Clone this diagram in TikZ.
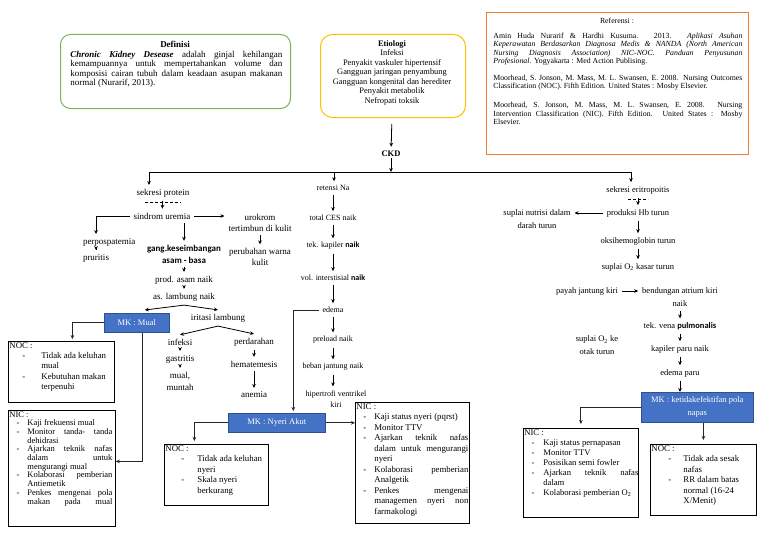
\documentclass[tikz,border=0pt]{standalone}
\usepackage{fontspec}
\setmainfont{Liberation Serif}
\newfontfamily\calfont{Carlito}
\usetikzlibrary{arrows.meta}
\definecolor{defgreen}{RGB}{122,178,84}
\definecolor{etiyellow}{RGB}{255,192,0}
\definecolor{reforange}{RGB}{237,125,49}
\definecolor{mkblue}{RGB}{68,114,196}
\definecolor{mkedge}{RGB}{47,82,143}
\newcommand{\tebal}[1]{{\calfont\bfseries #1}}
\newcommand{\isikotak}[4]{\begin{minipage}[t]{#1}\fontsize{#2}{#3}\selectfont #4\end{minipage}}
\newenvironment{dashlist}[2]{\begin{list}{-}{\setlength{\leftmargin}{#1}\setlength{\labelsep}{#2}\setlength{\labelwidth}{\dimexpr#1-#2\relax}\setlength{\topsep}{0pt}\setlength{\partopsep}{0pt}\setlength{\itemsep}{0pt}\setlength{\parsep}{0pt}}}{\end{list}}
\begin{document}
\begin{tikzpicture}[x=1pt, y=-1pt, >={Stealth[length=4pt, width=3.6pt]}, line width=0.8pt,
  txt/.style={font=\fontsize{9}{11}\selectfont, align=center, inner sep=1pt, outer sep=3pt},
  ktxt/.style={font=\fontsize{8}{11.5}\selectfont, align=center, inner sep=1pt, outer sep=3pt},
  rtxt/.style={font=\fontsize{8.5}{13}\selectfont, align=center, inner sep=1pt, outer sep=3pt},
  mk/.style={fill=mkblue, draw=mkedge, line width=0.6pt, text=white, font=\fontsize{8.5}{13}\selectfont, align=center, anchor=north west, inner sep=0pt},
  kotak/.style={draw, line width=0.8pt, anchor=north west, inner sep=0pt},
  isi/.style={anchor=north west, inner sep=1pt},
  hub/.style={->, draw=black!85, line width=0.9pt}]

\useasboundingbox (0,0) rectangle (768,543);

\node[kotak, draw=defgreen, line width=1pt, rounded corners=10pt, minimum width=230pt, minimum height=74pt] at (60, 34) (defbox) {};
\node[isi, anchor=north, font=\bfseries\fontsize{9}{10}\selectfont] at (175, 40) (defttl) {Definisi};
\node[isi] at (69, 50) (defisi) {\isikotak{212pt}{9}{9.2}{\textbf{\textit{Chronic Kidney Desease}} adalah ginjal kehilangan\linebreak kemampuannya untuk mempertahankan volume dan\linebreak komposisi cairan tubuh dalam keadaan asupan makanan\linebreak normal (Nurarif, 2013).}};

\node[kotak, draw=etiyellow, line width=1pt, rounded corners=12pt, minimum width=145pt, minimum height=83pt] at (320, 34) (etibox) {};
\node[isi, anchor=north, align=center, font=\fontsize{8.4}{9.5}\selectfont] at (392, 39) (etiisi) {\textbf{Etiologi}\\Infeksi\\Penyakit vaskuler hipertensif\\Gangguan jaringan penyambung\\Gangguan kongenital dan herediter\\Penyakit metabolik\\Nefropati toksik};

\node[kotak, draw=reforange, line width=1pt, minimum width=262pt, minimum height=142pt] at (486, 12) (refbox) {};
\node[isi, anchor=north, font=\fontsize{7.8}{8}\selectfont] at (617, 17) (refttl) {Referensi :};
\node[isi] at (492, 32) (refisi) {\isikotak{249pt}{7.8}{8.1}{Amin Huda Nurarif \& Hardhi Kusuma. 2013. \textit{Aplikasi Asuhan\linebreak Keperawatan Berdasarkan Diagnosa Medis \& NANDA (North American\linebreak Nursing Diagnosis Association) NIC-NOC. Panduan Penyusunan\linebreak Profesional}. Yogyakarta : Med Action Publising.\par\vspace{9.5pt}
Moorhead, S. Jonson, M. Mass, M. L. Swansen, E. 2008. Nursing Outcomes\linebreak Classification (NOC). Fifth Edition. United States : Mosby Elsevier.\par\vspace{11pt}
Moorhead, S. Jonson, M. Mass, M. L. Swansen, E. 2008. Nursing\linebreak Intervention Classification (NIC). Fifth Edition. United States : Mosby\linebreak Elsevier.}};

\node[font=\bfseries\fontsize{8.5}{10}\selectfont, inner sep=1pt] at (391, 154) (ckd) {CKD};
\coordinate (cabang) at (391, 172);
\coordinate (cabkiri) at (149, 172);
\coordinate (cabtengah) at (334, 172);
\coordinate (cabkanan) at (631, 172);
\path[->] (etibox) edge[shorten <=6pt, shorten >=3pt] (ckd);
\path[->] (ckd) edge (cabang);
\draw (cabkiri) -- (cabkanan);

\node[txt] at (163, 193) (sekprot) {sekresi protein};
\node[txt] at (162, 216) (sindrom) {sindrom uremia};
\node[txt] at (260, 222.5) (urokrom) {urokrom\\tertimbun di kulit};
\node[txt] at (260, 257) (ubahwarna) {perubahan warna\\kulit};
\node[txt, anchor=west] at (79, 242) (perpos) {perpospatemia};
\node[txt, anchor=west] at (79, 258) (pruritis) {pruritis};
\node[txt, font=\fontsize{9}{12}\selectfont] at (184, 254) (ganggu) {\tebal{gang.keseimbangan}\\\tebal{asam - basa}};
\node[txt] at (184, 280) (prodasam) {prod. asam naik};
\node[txt] at (184, 297) (aslamb) {as. lambung naik};
\node[mk, minimum width=65pt, minimum height=19pt] at (104, 313) (mkmual) {MK : Mual};
\node[txt] at (218, 318) (iritasi) {iritasi lambung};
\node[txt] at (180, 342) (infeksi) {infeksi};
\node[txt] at (180, 359) (gastritis) {gastritis};
\node[txt, font=\fontsize{9}{12}\selectfont] at (180, 381) (mual) {mual,\\muntah};
\node[txt] at (254, 342) (perdarahan) {perdarahan};
\node[txt] at (254, 364) (hemat) {hematemesis};
\node[txt] at (254, 395) (anemia) {anemia};

\draw[->] (cabkiri) -- (cabkiri |- sekprot.north);
\draw[densely dashed, line width=0.4pt] ([xshift=-18pt, yshift=-1pt]sekprot.south) -- ([xshift=18pt, yshift=-1pt]sekprot.south);
\path[->] (sekprot) edge (sindrom);
\draw[->] (sindrom) -- (sindrom -| urokrom.west);
\path[->] (urokrom) edge (ubahwarna);
\draw[->] (sindrom.west) -| ([xshift=17pt]perpos.north west);
\draw[->] ([xshift=17pt]perpos.south west) -- ([xshift=17pt]pruritis.north west);
\draw[->] (sindrom.south -| ganggu) -- (ganggu.north);
\path[->] (ganggu) edge (prodasam);
\path[->] (prodasam) edge (aslamb);
\draw[->] (aslamb.south) -- ([xshift=8pt, yshift=3pt]mkmual.north);
\draw[->] (aslamb.south) -- (iritasi.north);
\draw[->] (iritasi.south) -- (infeksi.north);
\draw[->] (iritasi.south) -- (perdarahan.north);
\path[->] (infeksi) edge (gastritis);
\path[->] (gastritis) edge (mual);
\path[->] (perdarahan) edge (hemat);
\path[->] (hemat) edge (anemia);

\node[kotak, minimum width=106pt, minimum height=61pt] at (8, 341) (nocmual) {};
\node[isi] at (nocmual.north west) {\isikotak{102pt}{8.8}{10.3}{\raggedright NOC :\begin{dashlist}{32pt}{16pt}\item Tidak ada keluhan\\mual\item Kebutuhan makan\\terpenuhi\end{dashlist}}};
\node[kotak, minimum width=107pt, minimum height=116pt] at (8, 410) (nicmual) {};
\node[isi] at (nicmual.north west) {\isikotak{103pt}{8.5}{8.7}{NIC :\begin{dashlist}{18pt}{8pt}\item Kaji frekuensi mual\item Monitor tanda- tanda\linebreak dehidrasi\item Ajarkan teknik nafas\linebreak dalam untuk\linebreak mengurangi mual\item Kolaborasi pemberian\linebreak Antiemetik\item Penkes mengenai pola\linebreak makan pada mual{\parfillskip=0pt\par}\end{dashlist}}};
\draw[hub, shorten >=2pt] (mkmual.west) -| ([xshift=11pt]nocmual.north);
\draw[hub] ([xshift=6pt]mkmual.south) |- ([yshift=7pt]nicmual.east);

\node[ktxt] at (333, 188) (retensi) {retensi Na};
\node[ktxt] at (333, 218) (totalces) {total CES naik};
\node[ktxt] at (333, 246) (tekkap) {tek. kapiler \tebal{naik}};
\node[ktxt] at (333, 278) (volint) {vol. interstisial \tebal{naik}};
\node[ktxt] at (333, 310) (edema) {edema};
\node[ktxt] at (333, 340) (preload) {preload naik};
\node[ktxt] at (333, 367) (beban) {beban jantung naik};
\node[ktxt] at (336, 399) (hipertrofi) {hipertrofi ventrikel\\kiri};
\node[mk, minimum width=97pt, minimum height=19pt] at (228, 413) (mknyeri) {MK : Nyeri Akut};

\draw[->] (cabtengah) -- (cabtengah |- retensi.north);
\path[->] (retensi) edge (totalces);
\path[->] (totalces) edge (tekkap);
\path[->] (tekkap) edge (volint);
\path[->] (volint) edge (edema);
\path[->] (edema) edge (preload);
\path[->] (preload) edge (beban);
\draw[->] (beban.south) -- (beban.south |- hipertrofi.north);

\node[kotak, minimum width=104pt, minimum height=61pt] at (164, 444) (nocnyeri) {};
\node[isi] at (nocnyeri.north west) {\isikotak{100pt}{8.8}{10.5}{\raggedright NOC :\begin{dashlist}{32pt}{13pt}\item Tidak ada keluhan\\nyeri\item Skala nyeri\\berkurang\end{dashlist}}};
\node[kotak, minimum width=114pt, minimum height=121pt] at (355, 402) (nicnyeri) {};
\node[isi] at (nicnyeri.north west) {\isikotak{112pt}{8.8}{10.5}{NIC :\begin{dashlist}{18pt}{8pt}\item Kaji status nyeri (pqrst)\item Monitor TTV\item Ajarkan teknik nafas\linebreak dalam untuk mengurangi\linebreak nyeri\item Kolaborasi pemberian\linebreak Analgetik\item Penkes mengenai\linebreak managemen nyeri non\linebreak farmakologi\end{dashlist}}};
\draw[hub, shorten >=2pt] (edema.west) -| ([xshift=16.5pt]mknyeri.north);
\draw[hub, shorten >=3pt] (mknyeri.west) -| ([xshift=-22pt]nocnyeri.north);
\draw[hub] (mknyeri.east) -- (mknyeri.east -| nicnyeri.west);

\node[rtxt] at (638, 190) (sekeritro) {sekresi eritropoitis};
\node[rtxt] at (638, 213) (prodhb) {produksi Hb turun};
\node[rtxt] at (537, 219.5) (supnut) {suplai nutrisi dalam\\darah turun};
\node[rtxt] at (638, 241) (oksi) {oksihemoglobin turun};
\node[rtxt] at (638, 267) (supkas) {suplai O\textsubscript{2} kasar turun};
\node[rtxt] at (587, 291) (payah) {payah jantung kiri};
\node[rtxt] at (680, 297.5) (bend) {bendungan atrium kiri\\naik};
\node[rtxt] at (680, 326) (tekvena) {tek. vena \tebal{pulmonalis}};
\node[rtxt] at (597, 345.5) (supotak) {suplai O\textsubscript{2} ke\\otak turun};
\node[rtxt] at (680, 349) (kappar) {kapiler paru naik};
\node[rtxt] at (680, 373) (edparu) {edema paru};
\node[mk, minimum width=112pt, minimum height=30pt] at (641, 392) (mknapas) {MK : ketidakefektifan pola\\napas};

\draw[->] (cabkanan) -- (cabkanan |- sekeritro.north);
\draw[densely dashed, line width=0.4pt] ([xshift=-10pt, yshift=-1pt]sekeritro.south) -- ([xshift=10pt, yshift=-1pt]sekeritro.south);
\path[->] (sekeritro) edge (prodhb);
\draw[->] (prodhb) -- (prodhb -| supnut.east);
\path[->] (prodhb) edge (oksi);
\path[->] (oksi) edge (supkas);
\draw[->] (payah) -- (payah -| bend.west);
\path[->] (bend) edge (tekvena);
\path[->] (tekvena) edge (kappar);
\path[->] (kappar) edge (edparu);
\draw[->] (edparu) -- (edparu |- mknapas.north);

\node[kotak, minimum width=115pt, minimum height=89pt] at (523, 428) (nicnapas) {};
\node[isi] at (nicnapas.north west) {\isikotak{114pt}{8.6}{10}{NIC :\begin{dashlist}{19pt}{9pt}\item Kaji status pernapasan\item Monitor TTV\item Posisikan semi fowler\item Ajarkan teknik nafas\linebreak dalam\item Kolaborasi pemberian O\textsubscript{2}\end{dashlist}}};
\node[kotak, minimum width=106pt, minimum height=71pt] at (650, 444) (nocnapas) {};
\node[isi] at (nocnapas.north west) {\isikotak{96pt}{8.8}{10.5}{\raggedright NOC :\begin{dashlist}{32pt}{12pt}\item Tidak ada sesak\\nafas\item RR dalam batas\\normal (16-24\\X/Menit)\end{dashlist}}};
\draw[hub, shorten >=4pt] (mknapas.west) -| (nicnapas.north);
\draw[hub, shorten >=4pt] (mknapas.south -| nocnapas.north) -- (nocnapas.north);
\end{tikzpicture}
\end{document}
